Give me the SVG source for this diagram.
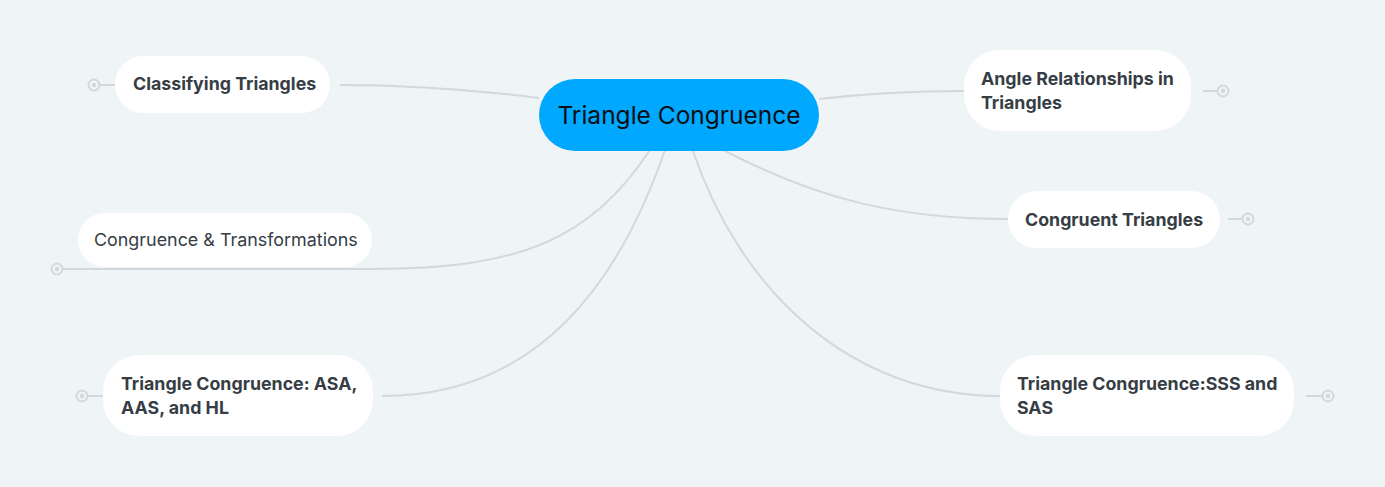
<svg xmlns="http://www.w3.org/2000/svg" width="1385" height="487" viewBox="0 0 1385 487">
<style>
.bg{fill:#eff4f7}
.box{fill:#ffffff}
.t{font-family:Inter,"Noto Sans",sans-serif;font-size:17.8px;font-weight:700;fill:#363d45}
.tn{font-family:Inter,"Noto Sans",sans-serif;font-size:17.9px;font-weight:400;fill:#363d45}
.ct{font-family:Inter,"Noto Sans",sans-serif;font-size:24.5px;fill:#0b0f14}
.c{fill:none;stroke:#d3d8dc;stroke-width:2}
.dot{fill:none;stroke:#d3d8dc;stroke-width:2}
.dc{fill:#d3d8dc}
</style>
<rect class="bg" width="1385" height="487"/>
<g id="connectors">
<path class="c" d="M539,98 C460,88 400,85 340,85"/>
<path class="c" d="M650,150 C590,240 520,269 372,269 L62,269"/>
<path class="c" d="M665,150 C620,280 540,396 382,396"/>
<path class="c" d="M819,99 C880,92 920,91 964,91"/>
<path class="c" d="M725,151 C820,200 900,219 1008,219"/>
<path class="c" d="M693,151 C740,290 850,396 1000,396"/>
<path class="c" d="M100,85 L115,85 M1203,91 L1218,91 M1228,219 L1243,219 M1306,396 L1323,396 M87,396 L103,396"/>
<circle class="dot" cx="94" cy="85" r="5.5"/><circle class="dc" cx="94" cy="85" r="2.2"/>
<circle class="dot" cx="57" cy="269" r="5.5"/><circle class="dc" cx="57" cy="269" r="2.2"/>
<circle class="dot" cx="82" cy="396" r="5.5"/><circle class="dc" cx="82" cy="396" r="2.2"/>
<circle class="dot" cx="1223" cy="91" r="5.5"/><circle class="dc" cx="1223" cy="91" r="2.2"/>
<circle class="dot" cx="1248" cy="219" r="5.5"/><circle class="dc" cx="1248" cy="219" r="2.2"/>
<circle class="dot" cx="1328" cy="396" r="5.5"/><circle class="dc" cx="1328" cy="396" r="2.2"/>
</g>
<g id="center">
<rect x="539" y="79" width="280" height="72" rx="36" fill="#00a8ff"/>
<text class="ct" x="679" y="124" text-anchor="middle">Triangle Congruence</text>
</g>
<g id="n1">
<rect class="box" x="115" y="56" width="215" height="57" rx="28.5"/>
<text class="t" x="133" y="90">Classifying Triangles</text>
</g>
<g id="n2">
<rect class="box" x="78" y="213" width="294" height="54" rx="27"/>
<text class="tn" x="94" y="246">Congruence &amp; Transformations</text>
</g>
<g id="n3">
<rect class="box" x="103" y="355" width="270" height="81" rx="36"/>
<text class="t" x="121" y="390">Triangle Congruence: ASA,</text>
<text class="t" x="121" y="414">AAS, and HL</text>
</g>
<g id="n4">
<rect class="box" x="964" y="50" width="227" height="81" rx="36"/>
<text class="t" x="981" y="85">Angle Relationships in</text>
<text class="t" x="981" y="109">Triangles</text>
</g>
<g id="n5">
<rect class="box" x="1008" y="191" width="212" height="57" rx="28.5"/>
<text class="t" x="1025" y="226">Congruent Triangles</text>
</g>
<g id="n6">
<rect class="box" x="1000" y="355" width="294" height="81" rx="36"/>
<text class="t" x="1017" y="390">Triangle Congruence:SSS and</text>
<text class="t" x="1017" y="414">SAS</text>
</g>
</svg>
